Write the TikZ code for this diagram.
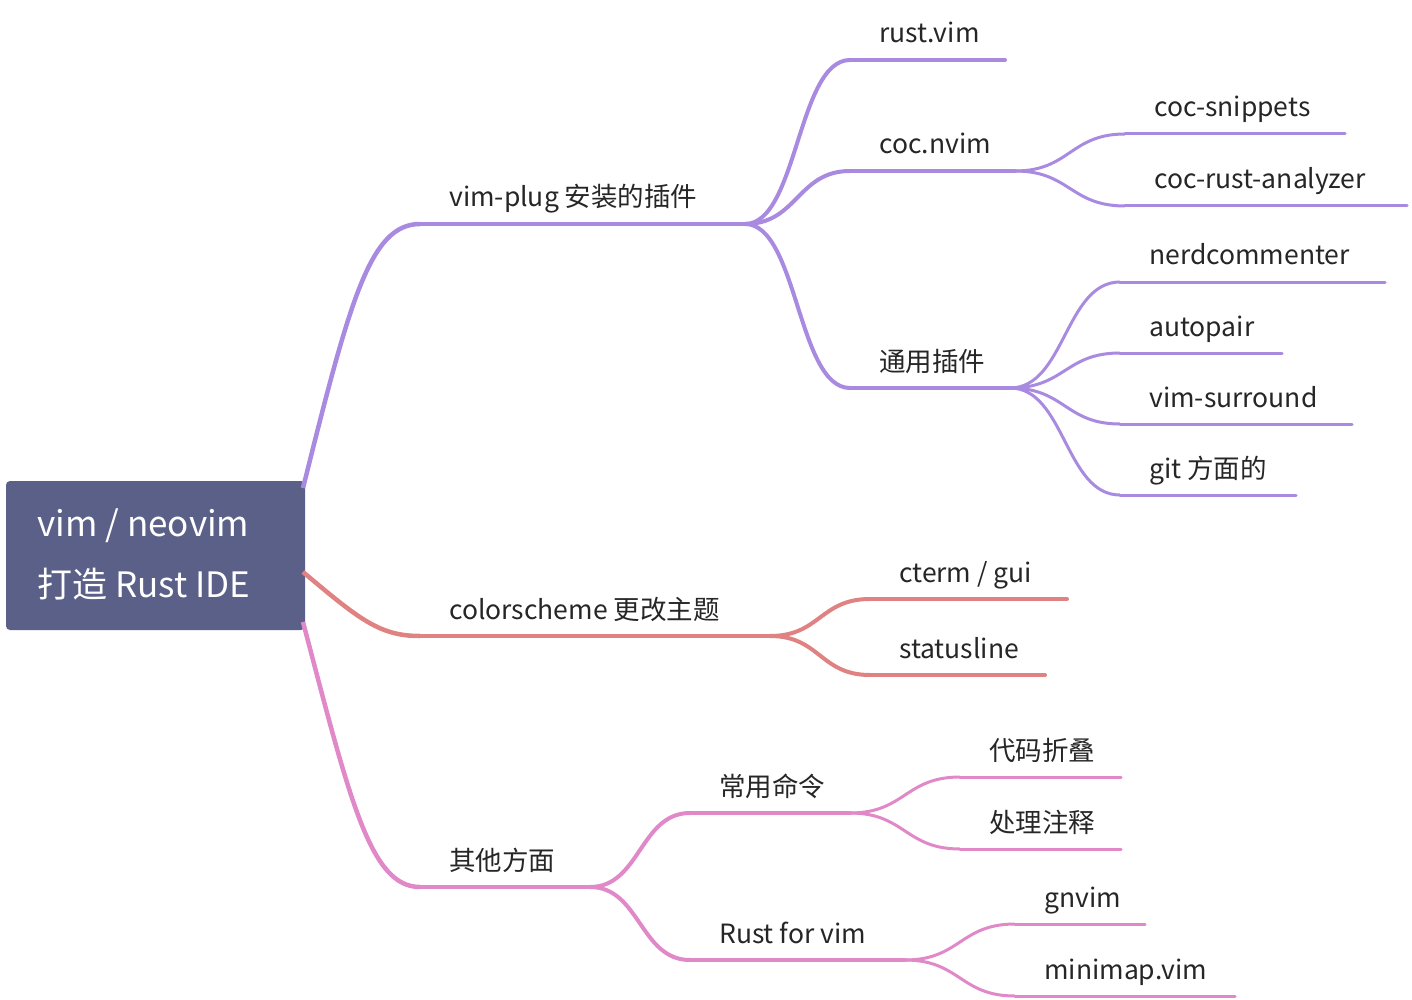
\documentclass[tikz,border=0pt]{standalone}
\usepackage{fontspec}
\usetikzlibrary{calc}
\setmainfont{Noto Sans CJK SC}
\begin{document}
\begin{tikzpicture}[x=1pt,y=-1pt,
  lbl/.style={anchor=base west,inner sep=0pt,text=black!85,font=\fontsize{26.5}{30}\selectfont},
  br/.style={line cap=round}]
\definecolor{pur}{HTML}{A88BE0}
\definecolor{red}{HTML}{E08282}
\definecolor{pnk}{HTML}{E088C8}
\definecolor{root}{HTML}{5A6088}
\useasboundingbox (0,0) rectangle (1412,1000);
\newcommand{\topic}[7]{%
  \coordinate (#1s) at (#2,#4);
  \coordinate (#1e) at (#3,#4);
  \draw[#6,line width=#7,br] (#1s) -- (#1e);
  \node[lbl] (#1) at (#2+29,#4-17) {#5};}
\newcommand{\link}[4]{%
  \draw[#3,line width=#4] let \p1=(#1),\p2=(#2) in (\p1) .. controls ({0.5*\x1+0.5*\x2},\y1) and ({0.5*\x1+0.5*\x2},\y2) .. (\p2);}
\node[fill=root,rounded corners=4pt,minimum width=299pt,minimum height=149pt,inner sep=0pt] (root) at (155.5,555.5) {};
\node[anchor=base west,text=white,font=\fontsize{35}{38}\selectfont] (r1) at (34,536) {vim / neovim};
\node[anchor=base west,text=white,font=\fontsize{35}{38}\selectfont] (r2) at (34,597) {打造 Rust IDE};
\coordinate (rA) at (303,488);
\coordinate (rB) at (303,572);
\coordinate (rC) at (303,622);
\topic{vp}{420}{745}{224}{vim-plug 安装的插件}{pur}{4.5pt}
\topic{cs}{420}{770}{636}{colorscheme 更改主题}{red}{4.5pt}
\topic{qt}{420}{590}{887}{其他方面}{pnk}{4.5pt}
\topic{rv}{850}{1005}{60}{rust.vim}{pur}{4pt}
\topic{cn}{850}{1015}{171}{coc.nvim}{pur}{4pt}
\topic{ty}{850}{1010}{388}{通用插件}{pur}{4pt}
\topic{sn}{1125}{1345}{134}{coc-snippets}{pur}{3pt}
\topic{ra}{1125}{1407}{206}{coc-rust-analyzer}{pur}{3pt}
\topic{nc}{1120}{1385}{282}{nerdcommenter}{pur}{3pt}
\topic{ap}{1120}{1282}{353}{autopair}{pur}{3pt}
\topic{su}{1120}{1352}{424}{vim-surround}{pur}{3pt}
\topic{gt}{1120}{1296}{495}{git 方面的}{pur}{3pt}
\topic{cg}{870}{1067}{599}{cterm / gui}{red}{4pt}
\topic{sl}{870}{1045}{675}{statusline}{red}{4pt}
\topic{cy}{690}{850}{813}{常用命令}{pnk}{4pt}
\topic{rf}{690}{905}{960}{Rust for vim}{pnk}{4pt}
\topic{dm}{960}{1121}{777}{代码折叠}{pnk}{3pt}
\topic{cl}{960}{1121}{849}{处理注释}{pnk}{3pt}
\topic{gn}{1015}{1145}{924}{gnvim}{pnk}{3pt}
\topic{mm}{1015}{1235}{996}{minimap.vim}{pnk}{3pt}
\draw[pur,line width=4.5pt] (rA) .. controls (350,300) and (370,224) .. (vps);
\draw[red,line width=4.5pt] (rB) .. controls (360,620) and (380,636) .. (css);
\draw[pnk,line width=4.5pt] (rC) .. controls (350,800) and (370,887) .. (qts);
\link{vpe}{rvs}{pur}{4pt}
\link{vpe}{cns}{pur}{4pt}
\link{vpe}{tys}{pur}{4pt}
\link{cne}{sns}{pur}{3pt}
\link{cne}{ras}{pur}{3pt}
\link{tye}{ncs}{pur}{3pt}
\link{tye}{aps}{pur}{3pt}
\link{tye}{sus}{pur}{3pt}
\link{tye}{gts}{pur}{3pt}
\link{cse}{cgs}{red}{4pt}
\link{cse}{sls}{red}{4pt}
\link{qte}{cys}{pnk}{4pt}
\link{qte}{rfs}{pnk}{4pt}
\link{cye}{dms}{pnk}{3pt}
\link{cye}{cls}{pnk}{3pt}
\link{rfe}{gns}{pnk}{3pt}
\link{rfe}{mms}{pnk}{3pt}
\end{tikzpicture}
\end{document}
